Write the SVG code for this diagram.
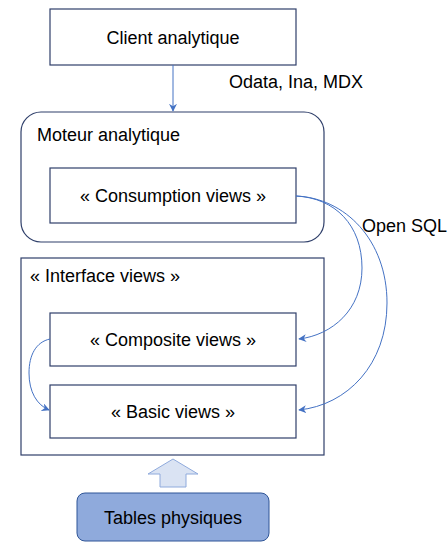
<svg xmlns="http://www.w3.org/2000/svg" width="448" height="552" viewBox="0 0 448 552">
<defs>
<style>
.box{fill:#ffffff;stroke:#2f3f6a;stroke-width:1.2}
.t{font-family:"Liberation Sans",Arial,sans-serif;font-size:18px;fill:#000}
.c{fill:none;stroke:#4472c4;stroke-width:1}
</style>
<marker id="ah" viewBox="0 0 10 10" refX="9" refY="5" markerWidth="8" markerHeight="8" markerUnits="userSpaceOnUse" orient="auto">
<path d="M0,0 L10,5 L0,10 L3,5 z" fill="#4472c4"/>
</marker>
</defs>
<rect width="448" height="552" fill="#ffffff"/>
<g id="moteur">
<rect class="box" x="21" y="112" width="303" height="130" rx="20"/>
<text class="t" x="37" y="141">Moteur analytique</text>
</g>
<g id="interface">
<rect class="box" x="21" y="258" width="303" height="197"/>
<text class="t" x="30" y="282">« Interface views »</text>
</g>
<g id="client">
<rect class="box" x="50" y="9" width="246" height="56"/>
<text class="t" x="173" y="44" text-anchor="middle">Client analytique</text>
</g>
<g id="consumption">
<rect class="box" x="50" y="168" width="246" height="55"/>
<text class="t" x="173" y="202" text-anchor="middle">« Consumption views »</text>
</g>
<g id="composite">
<rect class="box" x="50" y="313" width="246" height="53"/>
<text class="t" x="173" y="346" text-anchor="middle">« Composite views »</text>
</g>
<g id="basic">
<rect class="box" x="50" y="385" width="246" height="53"/>
<text class="t" x="173" y="418" text-anchor="middle">« Basic views »</text>
</g>
<g id="tables">
<rect x="77" y="493" width="192" height="48" rx="8" fill="#8faadc" stroke="#2f5597" stroke-width="1"/>
<text class="t" x="173" y="524" text-anchor="middle" fill="#1a1a1a">Tables physiques</text>
</g>
<g id="connectors">
<line class="c" x1="173" y1="65" x2="173" y2="111" marker-end="url(#ah)"/>
<text class="t" x="229" y="88">Odata, Ina, MDX</text>
<path class="c" d="M296,196 C335,198 362,225 362,268 C362,310 332,335 299,339" marker-end="url(#ah)"/>
<path class="c" d="M296,196 C345,198 387,240 387,303 C387,365 347,405 299,410" marker-end="url(#ah)"/>
<text class="t" x="362" y="232">Open SQL</text>
<path class="c" d="M50,339 C36,342 29,355 29,373 C29,392 37,405 49,410" marker-end="url(#ah)"/>
<path d="M173,459 L198,474 L186,474 L186,487 L160,487 L160,474 L148,474 Z" fill="#dae3f3" stroke="#8faadc" stroke-width="1"/>
</g>
</svg>
